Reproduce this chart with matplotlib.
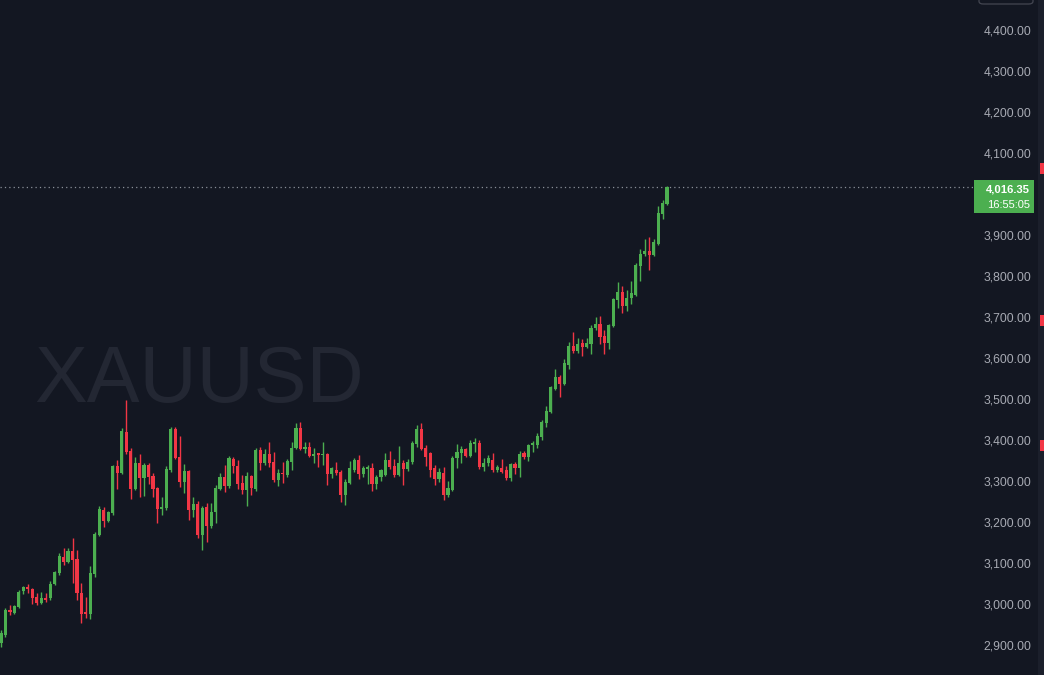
import numpy as np
import matplotlib.pyplot as plt
from matplotlib.patches import Rectangle, FancyBboxPatch
from matplotlib.ticker import FuncFormatter

# daily XAUUSD candles
opens = [2905, 2924, 2985, 2978, 2993, 3032, 3042, 3037, 3017, 3003,
         3014, 3014, 3049, 3075, 3115, 3102, 3130, 3110, 3028, 2980,
         2976, 3073, 3168, 3230, 3203, 3222, 3337, 3320, 3420, 3373,
         3280, 3343, 3307, 3339, 3312, 3283, 3232, 3234, 3327, 3427,
         3358, 3298, 3325, 3229, 3244, 3168, 3237, 3190, 3224, 3280,
         3310, 3288, 3354, 3337, 3295, 3278, 3312, 3280, 3376, 3344,
         3366, 3346, 3302, 3320, 3315, 3346, 3380, 3429, 3378, 3383,
         3361, 3368, 3363, 3366, 3317, 3327, 3322, 3266, 3295, 3327,
         3351, 3317, 3330, 3332, 3293, 3310, 3315, 3351, 3336, 3315,
         3344, 3329, 3346, 3390, 3427, 3380, 3368, 3332, 3305, 3320,
         3266, 3278, 3356, 3368, 3378, 3361, 3390, 3393, 3334, 3344,
         3351, 3327, 3332, 3327, 3307, 3341, 3332, 3368, 3358, 3388,
         3388, 3407, 3441, 3468, 3524, 3554, 3537, 3583, 3629, 3617,
         3637, 3627, 3634, 3673, 3683, 3654, 3637, 3678, 3741, 3761,
         3727, 3746, 3754, 3824, 3854, 3861, 3851, 3878, 3951, 3976]
highs = [2937, 2990, 2998, 2998, 3034, 3045, 3049, 3040, 3027, 3029,
         3027, 3056, 3081, 3124, 3136, 3137, 3161, 3132, 3051, 3017,
         3093, 3176, 3239, 3237, 3227, 3340, 3351, 3429, 3498, 3380,
         3359, 3366, 3344, 3344, 3320, 3285, 3261, 3336, 3431, 3431,
         3410, 3341, 3327, 3261, 3251, 3239, 3246, 3246, 3290, 3319,
         3339, 3361, 3358, 3351, 3315, 3322, 3315, 3380, 3383, 3378,
         3395, 3371, 3329, 3346, 3354, 3395, 3441, 3444, 3395, 3395,
         3381, 3368, 3395, 3368, 3334, 3346, 3327, 3305, 3349, 3356,
         3363, 3337, 3339, 3344, 3315, 3329, 3368, 3373, 3354, 3385,
         3351, 3354, 3398, 3437, 3441, 3388, 3371, 3339, 3332, 3334,
         3300, 3361, 3390, 3385, 3380, 3400, 3405, 3400, 3356, 3363,
         3368, 3339, 3354, 3337, 3345, 3346, 3373, 3373, 3390, 3398,
         3417, 3449, 3483, 3532, 3573, 3559, 3598, 3639, 3663, 3649,
         3646, 3649, 3680, 3700, 3702, 3668, 3683, 3746, 3785, 3775,
         3765, 3788, 3831, 3866, 3890, 3895, 3890, 3971, 3985, 4020]
lows = [2895, 2920, 2973, 2975, 2990, 3025, 3027, 3000, 2998, 3000,
        3005, 3010, 3046, 3071, 3095, 3100, 3051, 3010, 2954, 2966,
        2963, 3066, 3166, 3188, 3200, 3218, 3280, 3316, 3365, 3256,
        3278, 3261, 3263, 3293, 3261, 3197, 3217, 3229, 3322, 3354,
        3285, 3270, 3205, 3212, 3161, 3132, 3151, 3185, 3197, 3278,
        3273, 3283, 3320, 3280, 3268, 3239, 3266, 3276, 3327, 3339,
        3334, 3298, 3288, 3295, 3310, 3327, 3378, 3376, 3368, 3359,
        3344, 3334, 3339, 3290, 3307, 3315, 3249, 3241, 3293, 3322,
        3305, 3310, 3293, 3276, 3280, 3300, 3312, 3329, 3310, 3312,
        3290, 3325, 3341, 3383, 3376, 3336, 3310, 3290, 3298, 3254,
        3261, 3276, 3332, 3344, 3359, 3359, 3371, 3329, 3324, 3336,
        3322, 3322, 3319, 3302, 3300, 3317, 3310, 3354, 3349, 3371,
        3380, 3400, 3432, 3466, 3522, 3505, 3534, 3573, 3612, 3612,
        3605, 3625, 3610, 3668, 3634, 3610, 3621, 3675, 3722, 3710,
        3715, 3732, 3751, 3788, 3849, 3815, 3849, 3876, 3939, 3974]
closes = [2930, 2985, 2980, 2995, 3029, 3041, 3037, 3015, 3002, 3015,
          3011, 3050, 3078, 3118, 3102, 3130, 3107, 3028, 2975, 2976,
          3076, 3171, 3232, 3203, 3225, 3337, 3320, 3422, 3371, 3280,
          3343, 3307, 3339, 3310, 3280, 3232, 3236, 3329, 3427, 3356,
          3298, 3325, 3229, 3244, 3168, 3234, 3190, 3224, 3283, 3310,
          3288, 3356, 3337, 3293, 3278, 3312, 3283, 3376, 3344, 3366,
          3344, 3302, 3319, 3317, 3349, 3380, 3429, 3378, 3383, 3361,
          3366, 3363, 3366, 3317, 3332, 3319, 3266, 3298, 3332, 3351,
          3317, 3332, 3334, 3293, 3310, 3327, 3351, 3334, 3315, 3344,
          3329, 3346, 3393, 3427, 3378, 3359, 3327, 3305, 3322, 3266,
          3283, 3356, 3371, 3378, 3361, 3393, 3395, 3334, 3344, 3356,
          3327, 3334, 3322, 3307, 3341, 3332, 3366, 3358, 3388, 3393,
          3410, 3444, 3471, 3529, 3554, 3537, 3588, 3629, 3617, 3634,
          3627, 3637, 3673, 3683, 3651, 3637, 3680, 3744, 3761, 3727,
          3746, 3758, 3827, 3854, 3861, 3851, 3883, 3954, 3978, 4016.35]

last_price = 4016.35
last_time = "16:55:05"
# 4,000.00 sits under the price tag, so it is not shown
price_ticks = [p for p in range(2900, 4500, 100) if p != 4000]

BG = "#131722"
UP = "#4caf50"
DOWN = "#f23645"

plt.rcParams['font.family'] = ['Liberation Sans', 'DejaVu Sans']

W, H = 1044, 675
fig = plt.figure(figsize=(W / 100, H / 100), dpi=100, facecolor=BG)
plot_w = 975
ax = fig.add_axes([0, 0, plot_w / W, 1], facecolor=BG)

o = np.array(opens, dtype=float)
hi = np.array(highs, dtype=float)
lo = np.array(lows, dtype=float)
c = np.array(closes, dtype=float)
x = np.arange(len(o))
up = c >= o
cols = np.where(up, UP, DOWN)

ax.vlines(x, lo, hi, colors=cols, linewidth=1.0, zorder=2)
ax.bar(x, np.maximum(np.abs(c - o), 1.2), bottom=np.minimum(o, c),
       width=0.7, color=cols, linewidth=0, zorder=3)

# current price line
ax.axhline(last_price, color="#8a8f99", linewidth=0.9,
           linestyle=(0, (1, 2.5)), zorder=1)

ax.text(0.035, 0.405, "XAUUSD", transform=ax.transAxes,
        fontsize=57, color="#232733", ha="left", va="baseline", zorder=0)

step = 4.47
ax.set_xlim(-1 / step, (plot_w - 1) / step)
ax.set_ylim(2827, 4473)

for s in ax.spines.values():
    s.set_visible(False)
ax.set_xticks([])
ax.yaxis.tick_right()
ax.set_yticks(price_ticks)
ax.yaxis.set_major_formatter(FuncFormatter(lambda v, p: f"{v:,.2f}"))
ax.tick_params(axis="y", length=0, pad=6, labelsize=8.7, labelcolor="#a7aab3")

# last price tag
tag = Rectangle((974 / W, 1 - 213 / H), 60 / W, 33 / H, transform=fig.transFigure,
                facecolor=UP, edgecolor="none", zorder=5)
fig.add_artist(tag)
fig.text(1030 / W, 1 - 192 / H, f"{last_price:,.2f}", ha="right", va="baseline",
         fontsize=8.1, color="white", fontweight="bold", zorder=6)
fig.text(1030 / W, 1 - 208 / H, last_time, ha="right", va="baseline",
         fontsize=8.0, color="white", zorder=6)

# top-right button edge and right strip
fig.add_artist(FancyBboxPatch((979 / W, 1 - 4 / H), 54 / W, 10 / H,
                              boxstyle="round,pad=0,rounding_size=0.004",
                              transform=fig.transFigure, facecolor="none",
                              edgecolor="#434651", linewidth=0.9))
fig.add_artist(Rectangle((1038 / W, 0), 6 / W, 1, transform=fig.transFigure,
                         facecolor="#1b1f2b", edgecolor="none"))
for yy in (163, 315, 440):
    fig.add_artist(Rectangle((1040 / W, 1 - (yy + 11) / H), 4 / W, 11 / H,
                             transform=fig.transFigure, facecolor=DOWN,
                             edgecolor="none"))

fig.savefig("out.png", dpi=100, facecolor=BG)
